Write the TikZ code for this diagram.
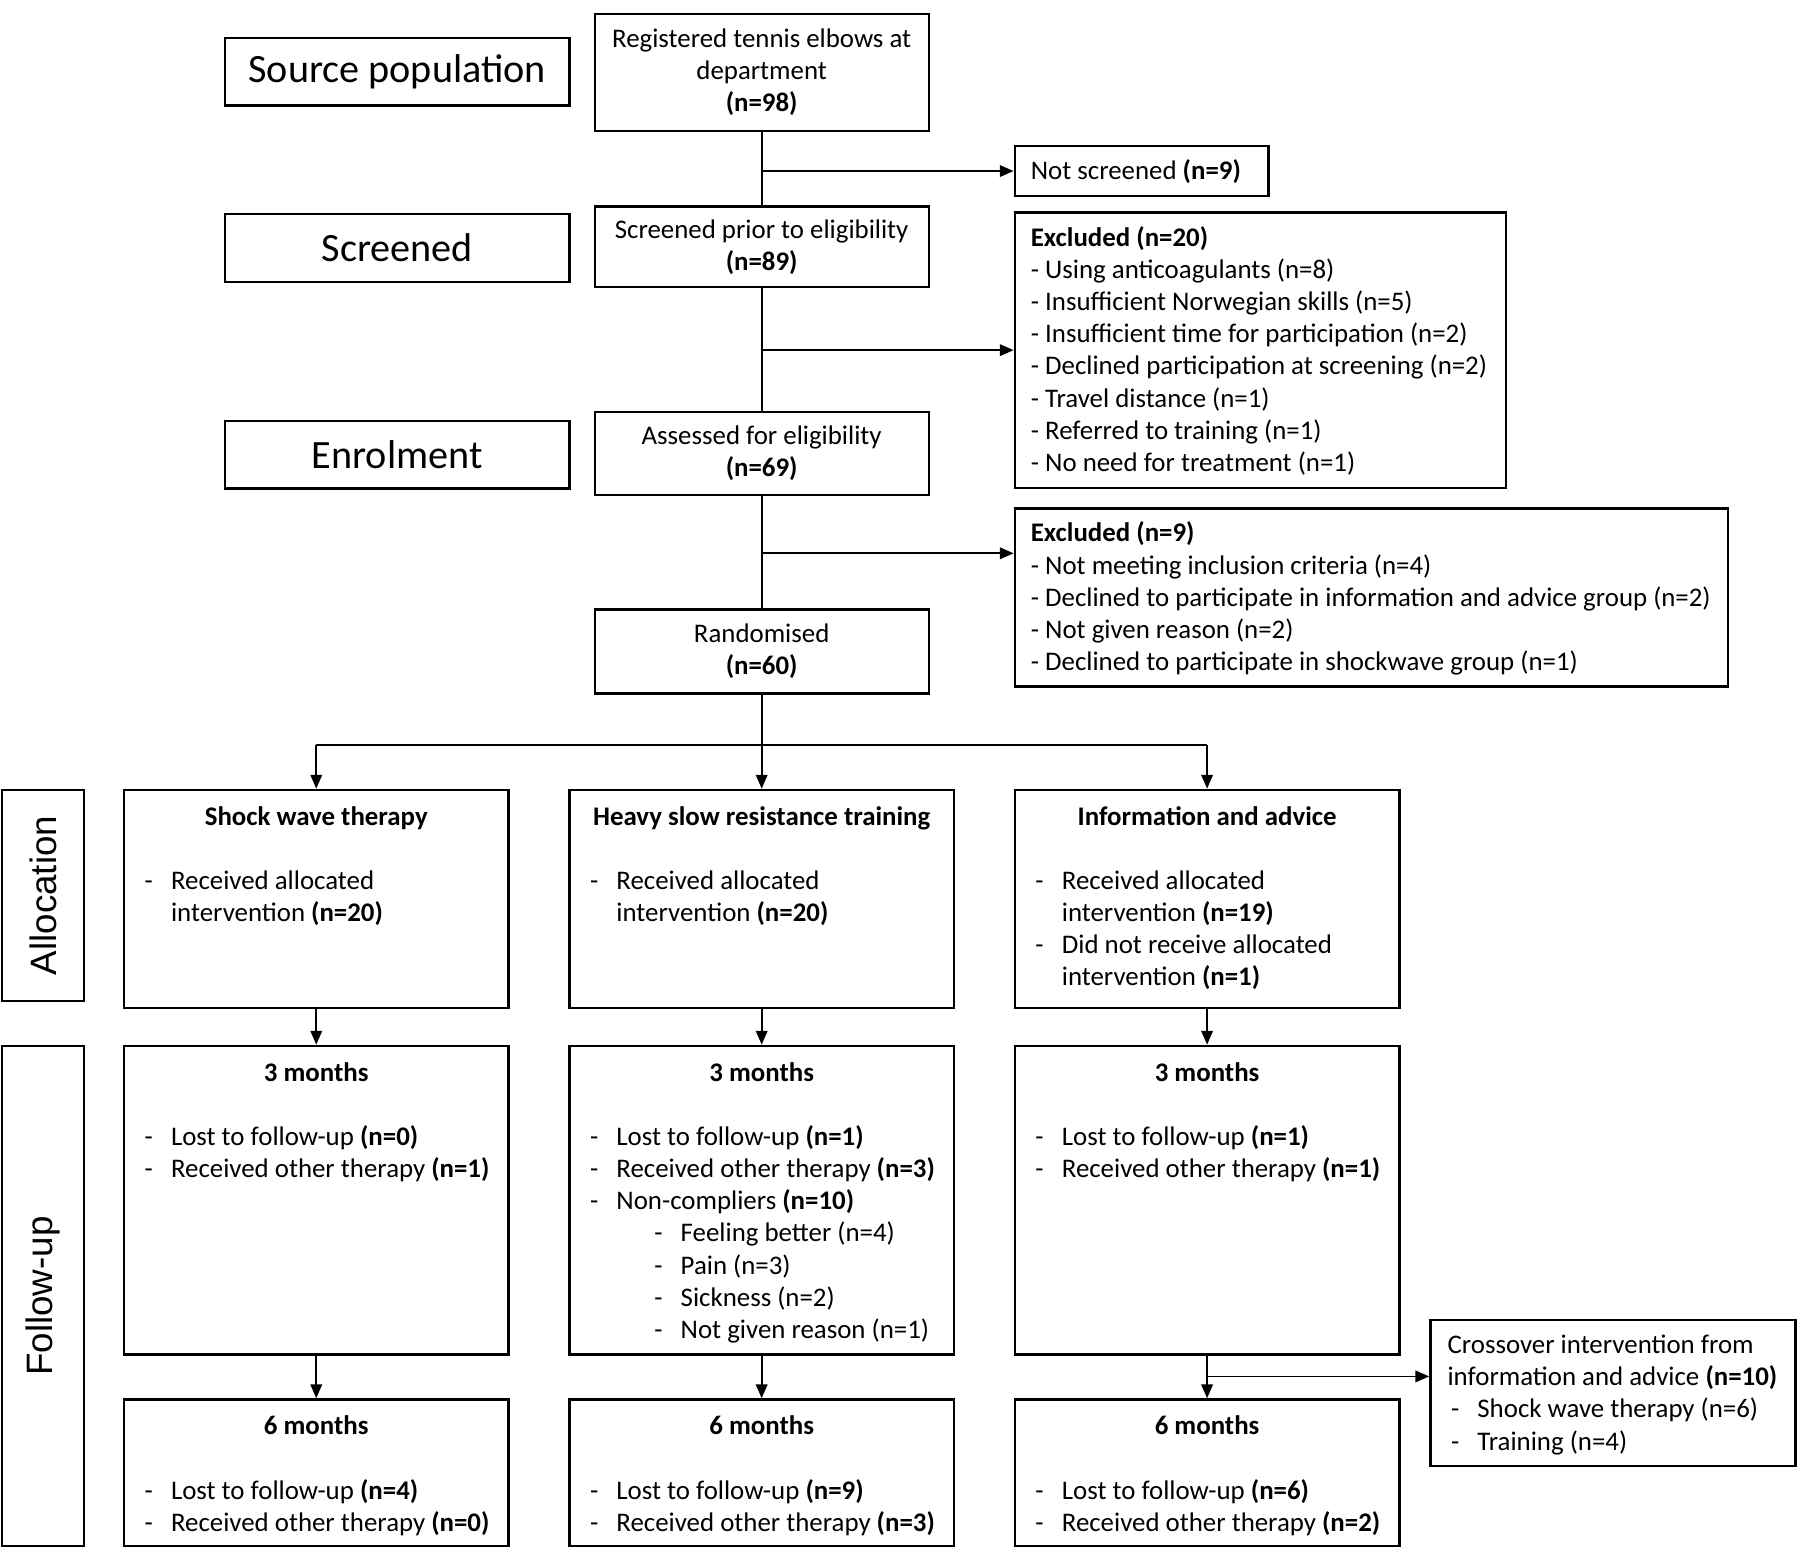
\documentclass[tikz,border=0pt]{standalone}
\usepackage{fontspec}
\setmainfont{Carlito}
\newfontfamily\arialf{Liberation Sans}
\usetikzlibrary{arrows.meta}
\newcommand\tl[1]{\mbox{\strut#1}\par}
\newcommand\dsh{\makebox[11.5pt][l]{-}}
\newcommand\itm[1]{\tl{\dsh#1}}
\newcommand\cnt[1]{\tl{\hspace*{11.5pt}#1}}
\newcommand\topbox[3]{\begin{minipage}[c][#2][t]{#1}\vspace*{5.6pt}#3\end{minipage}}
\newcommand\midbox[3]{\begin{minipage}[c][#2][c]{#1}\vspace*{2pt}#3\end{minipage}}
\newcommand\ttl[1]{{\centering\tl{\bfseries#1}}\vskip14pt\leftskip9pt\relax}
\begin{document}
\begin{tikzpicture}[x=0.5pt,y=-0.5pt, font=\fontsize{11.7}{14}\selectfont,
 bx/.style={draw, line width=1pt, inner sep=0pt},
 lbl/.style={bx, minimum width=150pt, minimum height=29.5pt, font=\fontsize{17.5}{21}\selectfont},
 mainb/.style={bx, minimum width=145.5pt, align=center},
 vlbl/.style={bx, rotate=90, minimum height=35.5pt, font=\arialf\fontsize{16}{19}\selectfont},
 arr/.style={-{Triangle[length=6pt,width=5pt]}, line width=0.8pt},
 ln/.style={line width=0.8pt}]
\useasboundingbox (0,0) rectangle (1568,1359);
\fill[white] (0,0) rectangle (1568,1359);

% left stage labels
\node[lbl] (src) at (346,62.5) {\raisebox{-1pt}{Source population}};
\node[lbl] (scrL) at (346,216) {Screened};
\node[lbl] (enr) at (346,396) {Enrolment};

% main column
\node[mainb, minimum height=51pt] (reg) at (663.5,63) {Registered tennis elbows at\\department\\\textbf{(n=98)}};
\node[mainb, minimum height=35pt] (scr) at (663.5,215) {Screened prior to eligibility\\\textbf{(n=89)}};
\node[mainb, minimum height=36pt] (ass) at (663.5,395) {Assessed for eligibility\\\textbf{(n=69)}};
\node[mainb, minimum height=36.5pt] (rnd) at (663.5,567.5) {Randomised\\\textbf{(n=60)}};

% exclusion boxes
\node[bx] (ns) at (994.5,149) {\midbox{110.5pt}{22pt}{\leftskip7pt \tl{Not screened \textbf{(n=9)}}}};
\node[bx] (ex20) at (1098,305) {\midbox{214pt}{120pt}{\leftskip7pt
 \tl{\textbf{Excluded (n=20)}}
 \tl{- Using anticoagulants (n=8)}
 \tl{- Insufficient Norwegian skills (n=5)}
 \tl{- Insufficient time for participation (n=2)}
 \tl{- Declined participation at screening (n=2)}
 \tl{- Travel distance (n=1)}
 \tl{- Referred to training (n=1)}
 \tl{- No need for treatment (n=1)}}};
\node[bx] (ex9) at (1194.5,520.5) {\midbox{310.5pt}{77.5pt}{\leftskip7pt
 \tl{\textbf{Excluded (n=9)}}
 \tl{- Not meeting inclusion criteria (n=4)}
 \tl{- Declined to participate in information and advice group (n=2)}
 \tl{- Not given reason (n=2)}
 \tl{- Declined to participate in shockwave group (n=1)}}};

% vertical labels
\node[vlbl, minimum width=92pt] (alA) at (37.5,780) {Allocation};
\node[vlbl, minimum width=218pt] (fuA) at (37.5,1129) {Follow-up};

% allocation row
\node[bx] (a1) at (275.5,783) {\topbox{167.5pt}{95pt}{\ttl{Shock wave therapy}
 \itm{Received allocated}
 \cnt{intervention \textbf{(n=20)}}}};
\node[bx] (a2) at (663.5,783) {\topbox{167.5pt}{95pt}{\ttl{Heavy slow resistance training}
 \itm{Received allocated}
 \cnt{intervention \textbf{(n=20)}}}};
\node[bx] (a3) at (1051.5,783) {\topbox{167.5pt}{95pt}{\ttl{Information and advice}
 \itm{Received allocated}
 \cnt{intervention \textbf{(n=19)}}
 \itm{Did not receive allocated}
 \cnt{intervention \textbf{(n=1)}}}};

% 3 months row
\node[bx] (t1) at (275.5,1045.5) {\topbox{167.5pt}{134.5pt}{\ttl{3 months}
 \itm{Lost to follow-up \textbf{(n=0)}}
 \itm{Received other therapy \textbf{(n=1)}}}};
\node[bx] (t2) at (663.5,1045.5) {\topbox{167.5pt}{134.5pt}{\ttl{3 months}
 \itm{Lost to follow-up \textbf{(n=1)}}
 \itm{Received other therapy \textbf{(n=3)}}
 \itm{Non-compliers \textbf{(n=10)}}
 \tl{\hspace*{28pt}\dsh Feeling better (n=4)}
 \tl{\hspace*{28pt}\dsh Pain (n=3)}
 \tl{\hspace*{28pt}\dsh Sickness (n=2)}
 \tl{\hspace*{28pt}\dsh Not given reason (n=1)}}};
\node[bx] (t3) at (1051.5,1045.5) {\topbox{167.5pt}{134.5pt}{\ttl{3 months}
 \itm{Lost to follow-up \textbf{(n=1)}}
 \itm{Received other therapy \textbf{(n=1)}}}};

% 6 months row
\node[bx] (s1) at (275.5,1283) {\topbox{167.5pt}{64pt}{\ttl{6 months}
 \itm{Lost to follow-up \textbf{(n=4)}}
 \itm{Received other therapy \textbf{(n=0)}}}};
\node[bx] (s2) at (663.5,1283) {\topbox{167.5pt}{64pt}{\ttl{6 months}
 \itm{Lost to follow-up \textbf{(n=9)}}
 \itm{Received other therapy \textbf{(n=3)}}}};
\node[bx] (s3) at (1051.5,1283) {\topbox{167.5pt}{64pt}{\ttl{6 months}
 \itm{Lost to follow-up \textbf{(n=6)}}
 \itm{Received other therapy \textbf{(n=2)}}}};

% crossover
\node[bx] (cr) at (1405,1213.5) {\midbox{159pt}{63.5pt}{\leftskip7.5pt
 \tl{Crossover intervention from}
 \tl{information and advice \textbf{(n=10)}}
 \tl{\hspace*{1.5pt}\dsh Shock wave therapy (n=6)}
 \tl{\hspace*{1.5pt}\dsh Training (n=4)}}};

% connectors
\draw[ln] (reg.south) -- (scr.north);
\coordinate (j1) at (reg.south |- ns.west);
\draw[arr] (j1) -- (ns.west);
\draw[ln] (scr.south) -- (ass.north);
\coordinate (j2) at (scr.south |- ex20.west);
\draw[arr] (j2) -- (ex20.west);
\draw[ln] (ass.south) -- (rnd.north);
\coordinate (j3) at (663.5,482);
\draw[arr] (j3) -- (j3 -| ex9.west);
\draw[arr] (rnd.south) -- (a2.north);
\coordinate (j4) at (663.5,649);
\draw[ln] (a1.north |- j4) -- (a3.north |- j4);
\draw[arr] (a1.north |- j4) -- (a1.north);
\draw[arr] (a3.north |- j4) -- (a3.north);
\draw[arr] (a1.south) -- (t1.north);
\draw[arr] (a2.south) -- (t2.north);
\draw[arr] (a3.south) -- (t3.north);
\draw[arr] (t1.south) -- (s1.north);
\draw[arr] (t2.south) -- (s2.north);
\draw[arr] (t3.south) -- (s3.north);
\coordinate (j5) at (1051.5,1199);
\draw[arr] (j5) -- (j5 -| cr.west);
\end{tikzpicture}
\end{document}
